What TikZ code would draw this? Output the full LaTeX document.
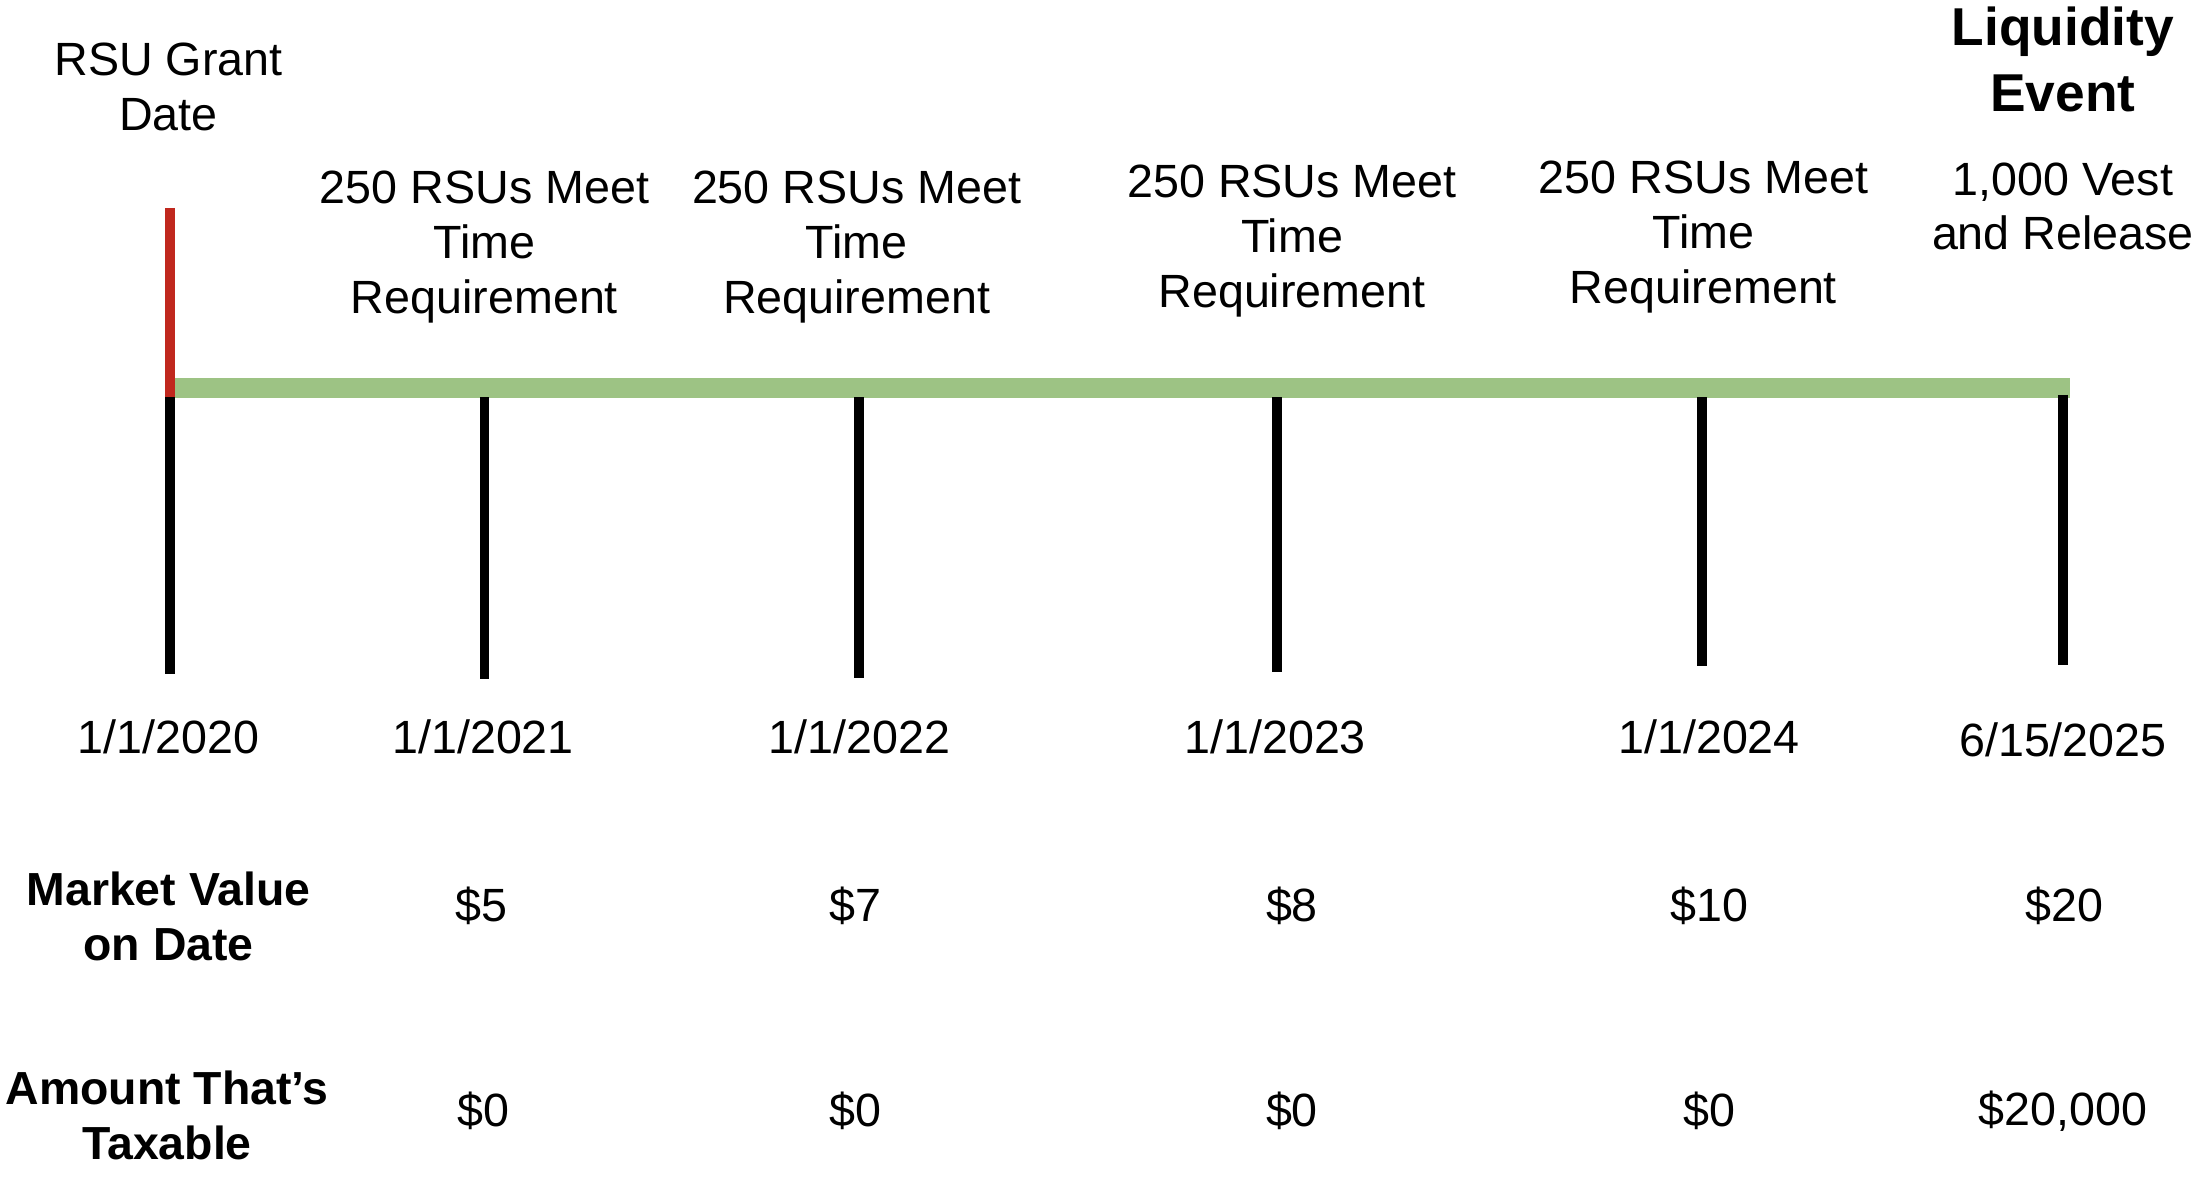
\documentclass[tikz,border=0pt]{standalone}
\usepackage{fontspec}
\setmainfont{Liberation Sans}
\definecolor{barGreen}{RGB}{157,195,132}
\definecolor{grantRed}{RGB}{192,40,30}

\begin{document}
\begin{tikzpicture}[x=0.1mm, y=-0.1mm,
    txt/.style={font=\fontsize{9.45}{11.1}\selectfont, align=center, inner sep=0pt},
    boldtxt/.style={txt, font=\fontsize{9.4}{11.1}\selectfont\bfseries},
    bigtxt/.style={txt, font=\fontsize{10.8}{13.4}\selectfont\bfseries},
    tickline/.style={black, line width=0.71mm}]
    \useasboundingbox (0,0) rectangle (1568,842);

    % timeline bar and grant marker
    \coordinate (barL) at (121,276);
    \coordinate (barR) at (1474,276);
    \draw[barGreen, line width=1.42mm] (barL) -- (barR);
    \draw[grantRed, line width=0.71mm] (121,148) -- (121,283);

    % ticks
    \draw[tickline] (121,283) -- (121,480);
    \draw[tickline] (345,283) -- (345,483.6);
    \draw[tickline] (612,283) -- (612,483);
    \draw[tickline] (909.5,283) -- (909.5,478.5);
    \draw[tickline] (1212,283) -- (1212,474);
    \draw[tickline] (1469,281) -- (1469,473.6);

    % top labels
    \node[txt, anchor=north] (grant) at (120,30) {RSU Grant\\Date};
    \node[txt, anchor=north] (req1) at (345,121) {250 RSUs Meet\\Time\\Requirement};
    \node[txt, anchor=north] (req2) at (610,121) {250 RSUs Meet\\Time\\Requirement};
    \node[txt, anchor=north] (req3) at (920,117) {250 RSUs Meet\\Time\\Requirement};
    \node[txt, anchor=north] (req4) at (1213,114) {250 RSUs Meet\\Time\\Requirement};
    \node[bigtxt, anchor=north] (liq) at (1469,4) {Liquidity\\Event};
    \node[txt, anchor=north] (vest) at (1469,115) {1,000 Vest\\and Release};

    % dates
    \node[txt] (d0) at (120,525) {1/1/2020};
    \node[txt] (d1) at (344,525) {1/1/2021};
    \node[txt] (d2) at (612,525) {1/1/2022};
    \node[txt] (d3) at (908,525) {1/1/2023};
    \node[txt] (d4) at (1217,525) {1/1/2024};
    \node[txt] (d5) at (1469,527) {6/15/2025};

    % market value row
    \node[boldtxt, anchor=north] (mvlabel) at (120,620) {Market Value\\on Date};
    \node[txt] (mv1) at (343,645) {\$5};
    \node[txt] (mv2) at (609,645) {\$7};
    \node[txt] (mv3) at (920,645) {\$8};
    \node[txt] (mv4) at (1217,645) {\$10};
    \node[txt] (mv5) at (1470,645) {\$20};

    % taxable row
    \node[boldtxt, anchor=north] (taxlabel) at (119,762) {Amount That’s\\Taxable};
    \node[txt] (tax1) at (344,791) {\$0};
    \node[txt] (tax2) at (609,791) {\$0};
    \node[txt] (tax3) at (920,791) {\$0};
    \node[txt] (tax4) at (1217,791) {\$0};
    \node[txt] (tax5) at (1469,791) {\$20,000};
\end{tikzpicture}
\end{document}
